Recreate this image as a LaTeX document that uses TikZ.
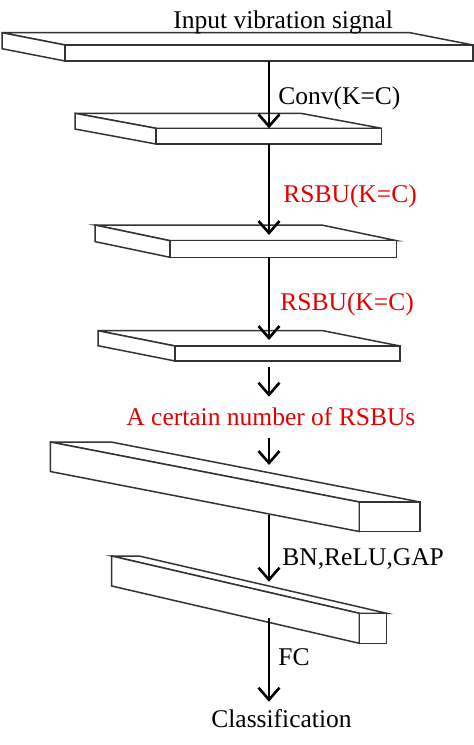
\documentclass[tikz,border=0pt]{standalone}
\usepackage{fontspec}
\setmainfont{Liberation Serif}
\usepackage{tikz}
\usetikzlibrary{arrows.meta,positioning}

% box seen from the upper left: name, front x1, y1 (top), x2, y2 (bottom), depth dx, dy
\newcommand{\slab}[7]{%
  \draw[slabline] (#2,#3) -- (#4,#3) -- ++(#6,#7) -- (#2+#6,#3+#7) -- cycle;
  \draw[slabline] (#2,#3) -- (#2+#6,#3+#7) -- (#2+#6,#5+#7) -- (#2,#5) -- cycle;
  \draw[slabline] (#2,#3) rectangle (#4,#5);
  \coordinate (#1) at (#4,#5);
}

\tikzset{
  slabline/.style={draw=black!80, fill=white, line width=0.75pt, line join=miter},
  flow/.style={->, line width=1.3pt},
  lab/.style={anchor=base west, inner sep=0pt, font=\fontsize{12.75}{15}\selectfont},
  redlab/.style={lab, text=red!90!black},
  >={Straight Barb[length=6pt,width=10.5pt]}
}

\begin{document}
\begin{tikzpicture}[x=0.5pt, y=-0.5pt]
  \useasboundingbox[fill=white] (0,0) rectangle (474,745);

  % feature maps
  \slab{inp}{65}{45}{473}{61}{-63}{-12.3}
  \slab{conv}{156}{128.3}{381.7}{144}{-81}{-15}
  \slab{rsbuA}{170}{240.7}{396.7}{257.3}{-75}{-15.7}
  \slab{rsbuB}{175}{346}{400}{361}{-77}{-15.3}
  \slab{deep}{359.3}{502}{420}{531.5}{-309}{-60}
  \slab{gap}{359.3}{613.3}{386.7}{643.3}{-247.6}{-57.3}

  % arrow ends
  \coordinate (p1) at (269,61);    \coordinate (q1) at (269,128.3);
  \coordinate (p2) at (269,144);   \coordinate (q2) at (269,235);
  \coordinate (p3) at (269,257.3); \coordinate (q3) at (269,340);
  \coordinate (p4) at (269,366.7); \coordinate (q4) at (269,396.7);
  \coordinate (p5) at (269,438);   \coordinate (q5) at (269,465);
  \coordinate (p6) at (269,515);   \coordinate (q6) at (269,581.7);
  \coordinate (p7) at (269,618.3); \coordinate (q7) at (269,701.7);

  \draw[flow] (p1) -- (q1);
  \draw[flow] (p2) -- (q2);
  \draw[flow] (p3) -- (q3);
  \draw[flow] (p4) -- (q4);
  \draw[flow] (p5) -- (q5);
  \draw[flow] (p6) -- (q6);
  \draw[flow] (p7) -- (q7);

  % labels
  \node[lab] (input) at (173,28) {Input vibration signal};
  \node[lab] (convlab) at (278,104) {Conv(K=C)};
  \node[redlab] (rsbu1) at (283,202) {RSBU(K=C)};
  \node[redlab] (rsbu2) at (280,310) {RSBU(K=C)};
  \node[redlab] (more) at (126,425) {A certain number of RSBUs};
  \node[lab] (bn) at (282,565) {BN,ReLU,GAP};
  \node[lab] (fc) at (278,665.7) {FC};
  \node[lab] (cls) at (211,727) {Classification};
\end{tikzpicture}
\end{document}
